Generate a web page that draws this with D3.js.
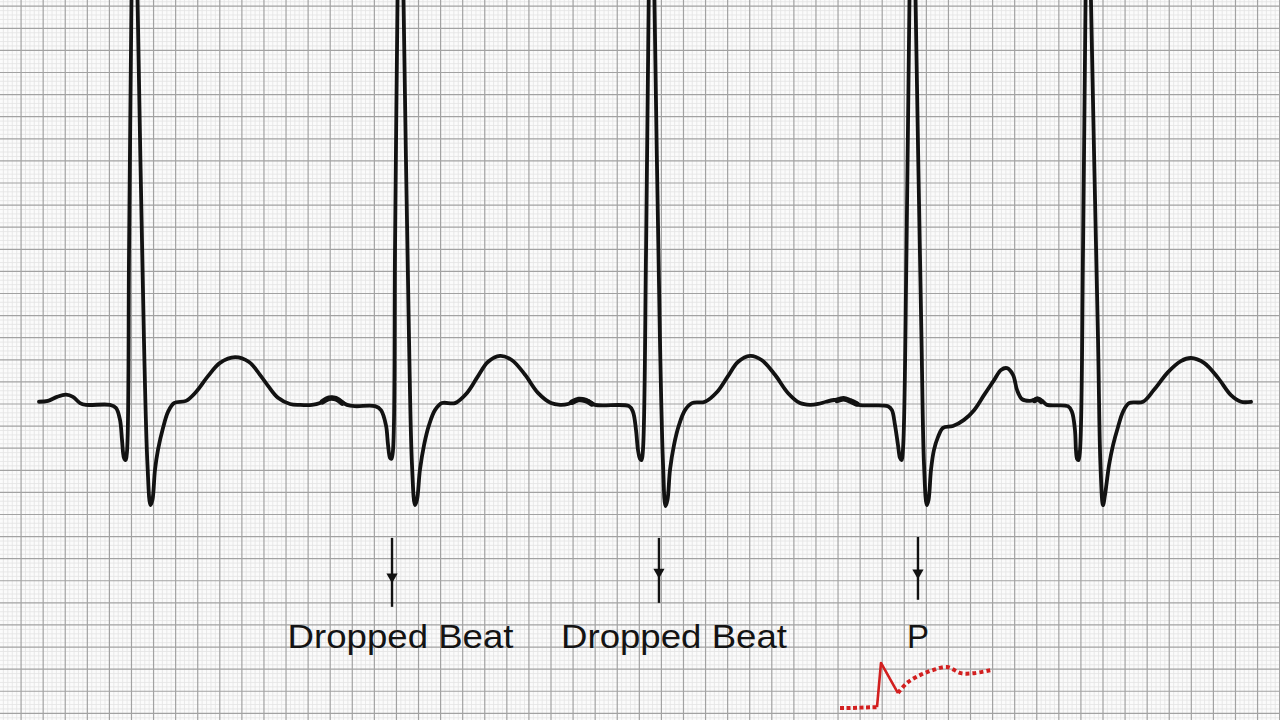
<!DOCTYPE html>
<html>
<head>
<meta charset="utf-8">
<script src="https://cdn.jsdelivr.net/npm/d3@7"></script>
<style>
  html, body { margin: 0; padding: 0; background: #fbfbfb; }
  svg { display: block; }
</style>
</head>
<body>
<div id="chart"></div>
<script>
// ECG strip values: [time ms, amplitude mV], read from the strip (25 mm/s, 10 mm/mV)
const beat1 = [
  [362, 0.05], [444, 0.07], [525, 0.16], [607, 0.21], [670, 0.16], [734, 0.02], [788, -0.02],
  [1005, -0.02], [1060, -0.09], [1096, -0.36], [1114, -0.81], [1132, -1.22], [1146, -1.27],
  [1159, -1.09], [1178, 3.48], [1200, 9.14], [1223, 13.67], [1255, 9.14], [1313, 1.45],
  [1345, -1.38], [1372, -2.29], [1390, -2.17], [1413, -1.49], [1440, -1.04], [1486, -0.54],
  [1531, -0.18], [1585, 0.02], [1694, 0.07], [1784, 0.27], [1893, 0.63], [2002, 0.93],
  [2138, 1.06], [2265, 0.95], [2364, 0.66], [2437, 0.41], [2527, 0.14], [2636, 0]
];
const beat2 = [
  [2726, -0.02], [2835, -0.02], [2908, 0.02], [2971, 0.11], [3025, 0.14], [3089, 0.07],
  [3152, -0.02], [3225, -0.05], [3406, -0.05], [3460, -0.14], [3505, -0.48], [3524, -0.93],
  [3542, -1.22], [3555, -1.24], [3569, -1.04], [3587, 3.48], [3610, 9.14], [3637, 13.67],
  [3664, 9.14], [3714, 1.45], [3741, -1.38], [3768, -2.29], [3786, -2.17], [3813, -1.49],
  [3850, -0.93], [3895, -0.48], [3949, -0.14], [4013, 0.02], [4130, 0.02], [4239, 0.25],
  [4339, 0.63], [4428, 0.95], [4538, 1.09], [4647, 0.99], [4765, 0.66], [4882, 0.25],
  [5000, 0.02], [5082, -0.02]
];
const beat3 = [
  [5154, 0], [5208, 0.07], [5272, 0.11], [5335, 0.07], [5399, -0.02], [5707, -0.05],
  [5743, -0.18], [5770, -0.59], [5788, -1.04], [5806, -1.24], [5820, -1.27], [5833, -1.04],
  [5861, 3.48], [5885, 9.14], [5910, 13.67], [5937, 9.14], [5987, 1.45], [6015, -1.38],
  [6037, -2.31], [6055, -2.17], [6078, -1.49], [6114, -0.93], [6159, -0.48], [6214, -0.14],
  [6277, 0.02], [6395, 0.05], [6504, 0.27], [6603, 0.63], [6693, 0.95], [6803, 1.09],
  [6911, 0.99], [7029, 0.66], [7146, 0.25], [7255, 0.02], [7346, -0.02]
];
const beat4 = [
  [7419, 0], [7491, 0.05], [7563, 0.09], [7645, 0.11], [7717, 0.07], [7790, -0.02],
  [8052, -0.05], [8088, -0.14], [8116, -0.48], [8143, -0.93], [8161, -1.22], [8175, -1.27],
  [8188, -1.04], [8220, 3.48], [8247, 9.14], [8275, 13.67], [8302, 9.14], [8356, 1.45],
  [8379, -1.38], [8404, -2.29], [8420, -2.17], [8442, -1.49], [8469, -1.04], [8505, -0.75],
  [8551, -0.54], [8641, -0.50], [8741, -0.36], [8832, -0.14], [8922, 0.20], [9013, 0.54],
  [9076, 0.77], [9130, 0.81], [9185, 0.66], [9221, 0.32], [9266, 0.11], [9339, 0.07],
  [9402, 0.11], [9448, 0.07], [9493, -0.02], [9682, -0.05]
];
const beat5 = [
  [9719, -0.18], [9746, -0.59], [9755, -1.04], [9765, -1.24], [9778, -1.27], [9792, -1.04],
  [9819, 3.48], [9842, 9.14], [9864, 13.67], [9891, 9.14], [9955, 1.45], [9977, -1.38],
  [10000, -2.29], [10018, -2.06], [10055, -1.38], [10091, -0.93], [10136, -0.52],
  [10181, -0.18], [10236, 0.02], [10362, 0.05], [10462, 0.32], [10589, 0.72], [10706, 0.97],
  [10797, 1.04], [10915, 0.93], [11042, 0.59], [11159, 0.20], [11250, 0.05], [11341, 0.05]
];

// thick smudges on the P waves between beats
const pBlobs = [
  [[2930, 0.05], [2990, 0.13], [3050, 0.12], [3110, 0.02]],
  [[5190, 0.04], [5250, 0.10], [5310, 0.08], [5370, 0.0]],
  [[7590, 0.08], [7650, 0.12], [7710, 0.07], [7770, 0.0]],
  [[9380, 0.08], [9410, 0.11], [9440, 0.06]]
];

// small red sketch under the "P" label
const redFlat = [[7618, -6.88], [7700, -6.88], [7800, -6.87], [7953, -6.86]];
const redSpike = [[7953, -6.86], [7989, -5.86], [8143, -6.54]];
const redTail = [[8143, -6.54], [8225, -6.31], [8346, -6.13], [8460, -6.02], [8587, -5.95],
  [8714, -6.09], [8832, -6.09], [8986, -6.02]];

// annotations
const labelText = ['Dropped Beat', 'Dropped Beat', 'P'];
const labelTime = [3637, 6114, 8324];
const arrowTime = [3560, 5978, 8324];
const arrowTop = [-3.03, -3.03, -3.01];
const arrowBottom = [-4.59, -4.50, -4.43];
const arrowHead = [-3.91, -3.80, -3.82];
const labelMv = -5.52;

const width = 1280, height = 720;

const svg = d3.select('#chart').append('svg')
  .attr('width', width)
  .attr('height', height);

const x = d3.scaleLinear().domain([0, 11600]).range([-1, -1 + 11600 * 0.1104]);
const y = d3.scaleLinear().domain([9.14, -7.15]).range([0, height]);

svg.append('rect').attr('width', width).attr('height', height).attr('fill', '#fbfbfb');

// --- ECG paper grid ---
const minorT = d3.range(0, 11601, 40);
const minorV = d3.range(-7.1, 9.15, 0.1);
const grid = svg.append('g');

grid.selectAll('.vmin').data(minorT.filter((d, i) => i % 5 !== 0)).enter().append('line')
  .attr('x1', d => x(d)).attr('x2', d => x(d))
  .attr('y1', 0).attr('y2', height)
  .attr('stroke', '#e3e3e3').attr('stroke-width', 0.8);

grid.selectAll('.hmin').data(minorV.filter(d => Math.abs(Math.round(d * 10)) % 5 !== 0)).enter().append('line')
  .attr('x1', 0).attr('x2', width)
  .attr('y1', d => y(d)).attr('y2', d => y(d))
  .attr('stroke', '#e3e3e3').attr('stroke-width', 0.8);

grid.selectAll('.vmaj').data(minorT.filter((d, i) => i % 5 === 0)).enter().append('line')
  .attr('x1', d => x(d)).attr('x2', d => x(d))
  .attr('y1', 0).attr('y2', height)
  .attr('stroke', '#a2a2a2').attr('stroke-width', 1.2);

grid.selectAll('.hmaj').data(minorV.filter(d => Math.abs(Math.round(d * 10)) % 5 === 0)).enter().append('line')
  .attr('x1', 0).attr('x2', width)
  .attr('y1', d => y(d)).attr('y2', d => y(d))
  .attr('stroke', '#a2a2a2').attr('stroke-width', 1.2);

// --- Trace ---
const line = d3.line()
  .x(d => x(d[0]))
  .y(d => y(d[1]))
  .curve(d3.curveCatmullRom.alpha(0.5));

const trace = [].concat(beat1, beat2, beat3, beat4, beat5);

svg.append('path')
  .datum(trace)
  .attr('d', line)
  .attr('fill', 'none')
  .attr('stroke', '#121212')
  .attr('stroke-width', 3.8)
  .attr('stroke-linejoin', 'round')
  .attr('stroke-linecap', 'round');

svg.selectAll('.pblob').data(pBlobs).enter().append('path')
  .attr('d', line)
  .attr('fill', 'none')
  .attr('stroke', '#121212')
  .attr('stroke-width', 5.5)
  .attr('stroke-linecap', 'round');

// --- Arrows + labels ---
const notes = svg.append('g');
labelText.forEach((t, i) => {
  notes.append('line')
    .attr('x1', x(arrowTime[i])).attr('x2', x(arrowTime[i]))
    .attr('y1', y(arrowTop[i])).attr('y2', y(arrowBottom[i]))
    .attr('stroke', '#111').attr('stroke-width', 2.4);
  notes.append('path')
    .attr('d', d3.symbol(d3.symbolTriangle, 55)())
    .attr('transform', `translate(${x(arrowTime[i])},${y(arrowHead[i])}) rotate(180)`)
    .attr('fill', '#111');
  const txt = notes.append('text')
    .attr('x', x(labelTime[i]))
    .attr('y', y(labelMv))
    .attr('text-anchor', 'middle')
    .attr('font-family', 'Liberation Sans, Arial, sans-serif')
    .attr('font-size', 33)
    .attr('fill', '#141414')
    .text(t);
  if (t.length > 1) txt.attr('textLength', 226).attr('lengthAdjust', 'spacingAndGlyphs');
});

// --- red sketch ---
const red = svg.append('g').attr('fill', 'none').attr('stroke', '#d21f1f').attr('stroke-linecap', 'butt');
const redLine = d3.line().x(d => x(d[0])).y(d => y(d[1]));
red.append('path').datum(redFlat).attr('d', redLine)
  .attr('stroke-width', 4).attr('stroke-dasharray', '4 2.5');
red.append('path').datum(redSpike).attr('d', redLine)
  .attr('stroke-width', 2.6).attr('stroke-linejoin', 'round');
red.append('path').datum(redTail).attr('d', d3.line().x(d => x(d[0])).y(d => y(d[1])).curve(d3.curveCatmullRom))
  .attr('stroke-width', 4).attr('stroke-dasharray', '4 3');
</script>
</body>
</html>
